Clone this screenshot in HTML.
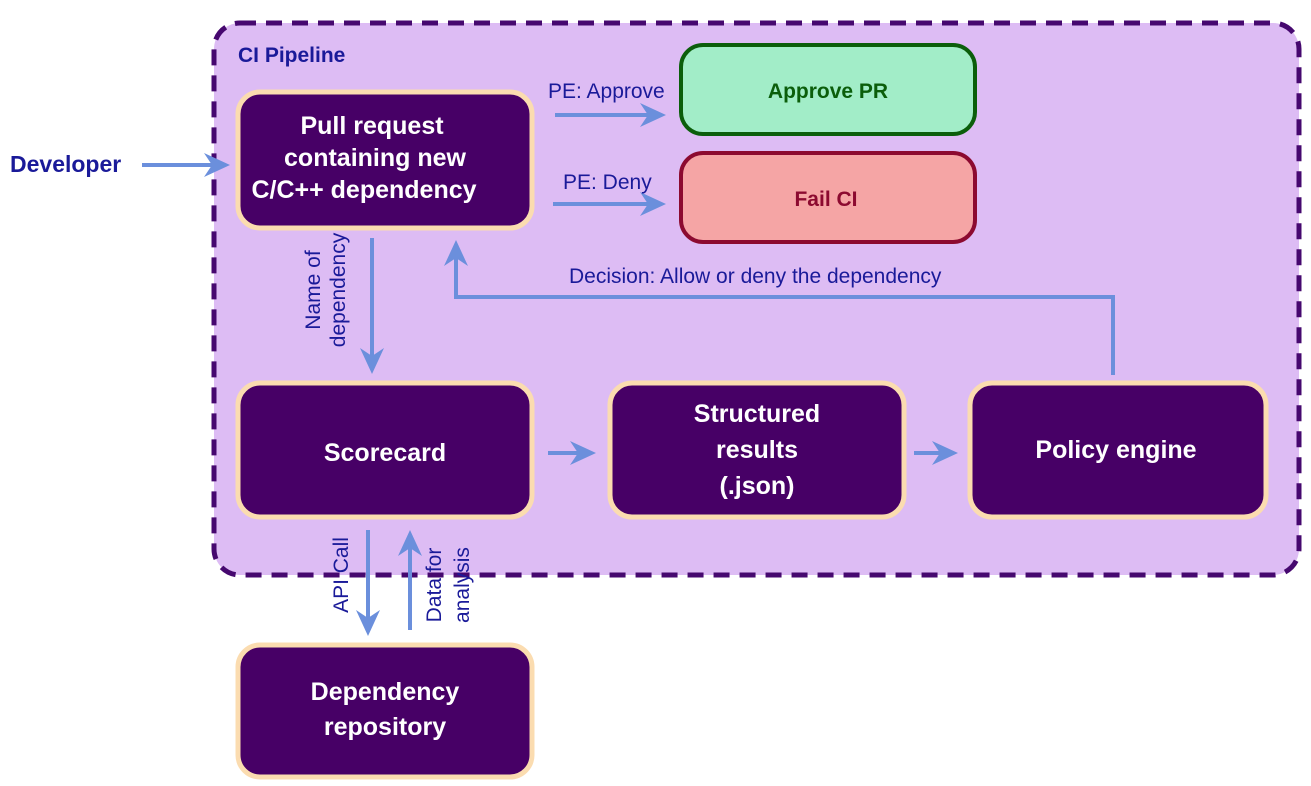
<!DOCTYPE html>
<html><head><meta charset="utf-8"><style>
html,body{margin:0;padding:0;background:#fff;width:1311px;height:786px;overflow:hidden}
text{font-family:"Liberation Sans",sans-serif}
.n{fill:#470066;stroke:#fbdcb0;stroke-width:5}
.t{fill:#fff;font-weight:bold;font-size:25px;text-anchor:middle}
.l{fill:#1a1a99;font-size:21px}
.a{stroke:#6b8fdc;stroke-width:4;fill:none}
.h{fill:#6b8fdc}
</style></head><body>
<svg width="1311" height="786" xmlns="http://www.w3.org/2000/svg">
<rect x="214" y="23" width="1085" height="552" rx="26" fill="#ddbcf4" stroke="#46086f" stroke-width="5" stroke-dasharray="16,10"/>
<text x="238" y="62" style="font-weight:bold;font-size:21px;fill:#1a1a99">CI Pipeline</text>
<text x="10" y="172" style="font-weight:bold;font-size:23px;fill:#1a1a99">Developer</text>

<rect class="n" x="238" y="92" width="294" height="136" rx="22"/>
<text class="t" x="372" y="134">Pull request</text>
<text class="t" x="375" y="166">containing new</text>
<text class="t" x="364" y="198">C/C++ dependency</text>

<rect x="681" y="45" width="294" height="89" rx="22" fill="#a2edc8" stroke="#0b5e0b" stroke-width="4"/>
<text x="828" y="98" style="font-weight:bold;font-size:21px;fill:#0b5e0b;text-anchor:middle">Approve PR</text>
<rect x="681" y="153" width="294" height="89" rx="22" fill="#f5a5a5" stroke="#8c0a30" stroke-width="4"/>
<text x="826" y="206" style="font-weight:bold;font-size:21px;fill:#8c0a30;text-anchor:middle">Fail CI</text>

<rect class="n" x="238" y="383" width="294" height="134" rx="22"/>
<text class="t" x="385" y="461">Scorecard</text>
<rect class="n" x="610" y="383" width="294" height="134" rx="22"/>
<text class="t" x="757" y="422">Structured</text>
<text class="t" x="757" y="458">results</text>
<text class="t" x="757" y="494">(.json)</text>
<rect class="n" x="970" y="383" width="296" height="134" rx="22"/>
<text class="t" x="1116" y="458">Policy engine</text>
<rect class="n" x="238" y="645" width="294" height="132" rx="22"/>
<text class="t" x="385" y="700">Dependency</text>
<text class="t" x="385" y="735">repository</text>

<g>
<line class="a" x1="142" y1="165" x2="222" y2="165"/><polygon class="h" points="230,165 204,153 212,165 204,177"/>
<line class="a" x1="555" y1="115" x2="656" y2="115"/><polygon class="h" points="666,115 640,103 648,115 640,127"/>
<line class="a" x1="553" y1="204" x2="656" y2="204"/><polygon class="h" points="666,204 640,192 648,204 640,216"/>
<polyline class="a" points="1113,375 1113,297 456,297 456,250"/><polygon class="h" points="456,240 444,266 456,258 468,266"/>
<line class="a" x1="372" y1="238" x2="372" y2="364"/><polygon class="h" points="372,374 360,348 372,356 384,348"/>
<line class="a" x1="548" y1="453" x2="586" y2="453"/><polygon class="h" points="596,453 570,441 578,453 570,465"/>
<line class="a" x1="914" y1="453" x2="948" y2="453"/><polygon class="h" points="958,453 932,441 940,453 932,465"/>
<line class="a" x1="368" y1="530" x2="368" y2="626"/><polygon class="h" points="368,636 356,610 368,618 380,610"/>
<line class="a" x1="410" y1="630" x2="410" y2="540"/><polygon class="h" points="410,530 398,556 410,548 422,556"/>
</g>

<text class="l" x="548" y="98">PE: Approve</text>
<text class="l" x="563" y="189">PE: Deny</text>
<text class="l" x="569" y="283">Decision: Allow or deny the dependency</text>
<text class="l" transform="translate(320,290) rotate(-90)" text-anchor="middle">Name of</text>
<text class="l" transform="translate(345,290) rotate(-90)" text-anchor="middle">dependency</text>
<text class="l" transform="translate(348,575) rotate(-90)" text-anchor="middle">API Call</text>
<text class="l" transform="translate(441,585) rotate(-90)" text-anchor="middle">Data for</text>
<text class="l" transform="translate(469,585) rotate(-90)" text-anchor="middle">analysis</text>
</svg>
</body></html>
